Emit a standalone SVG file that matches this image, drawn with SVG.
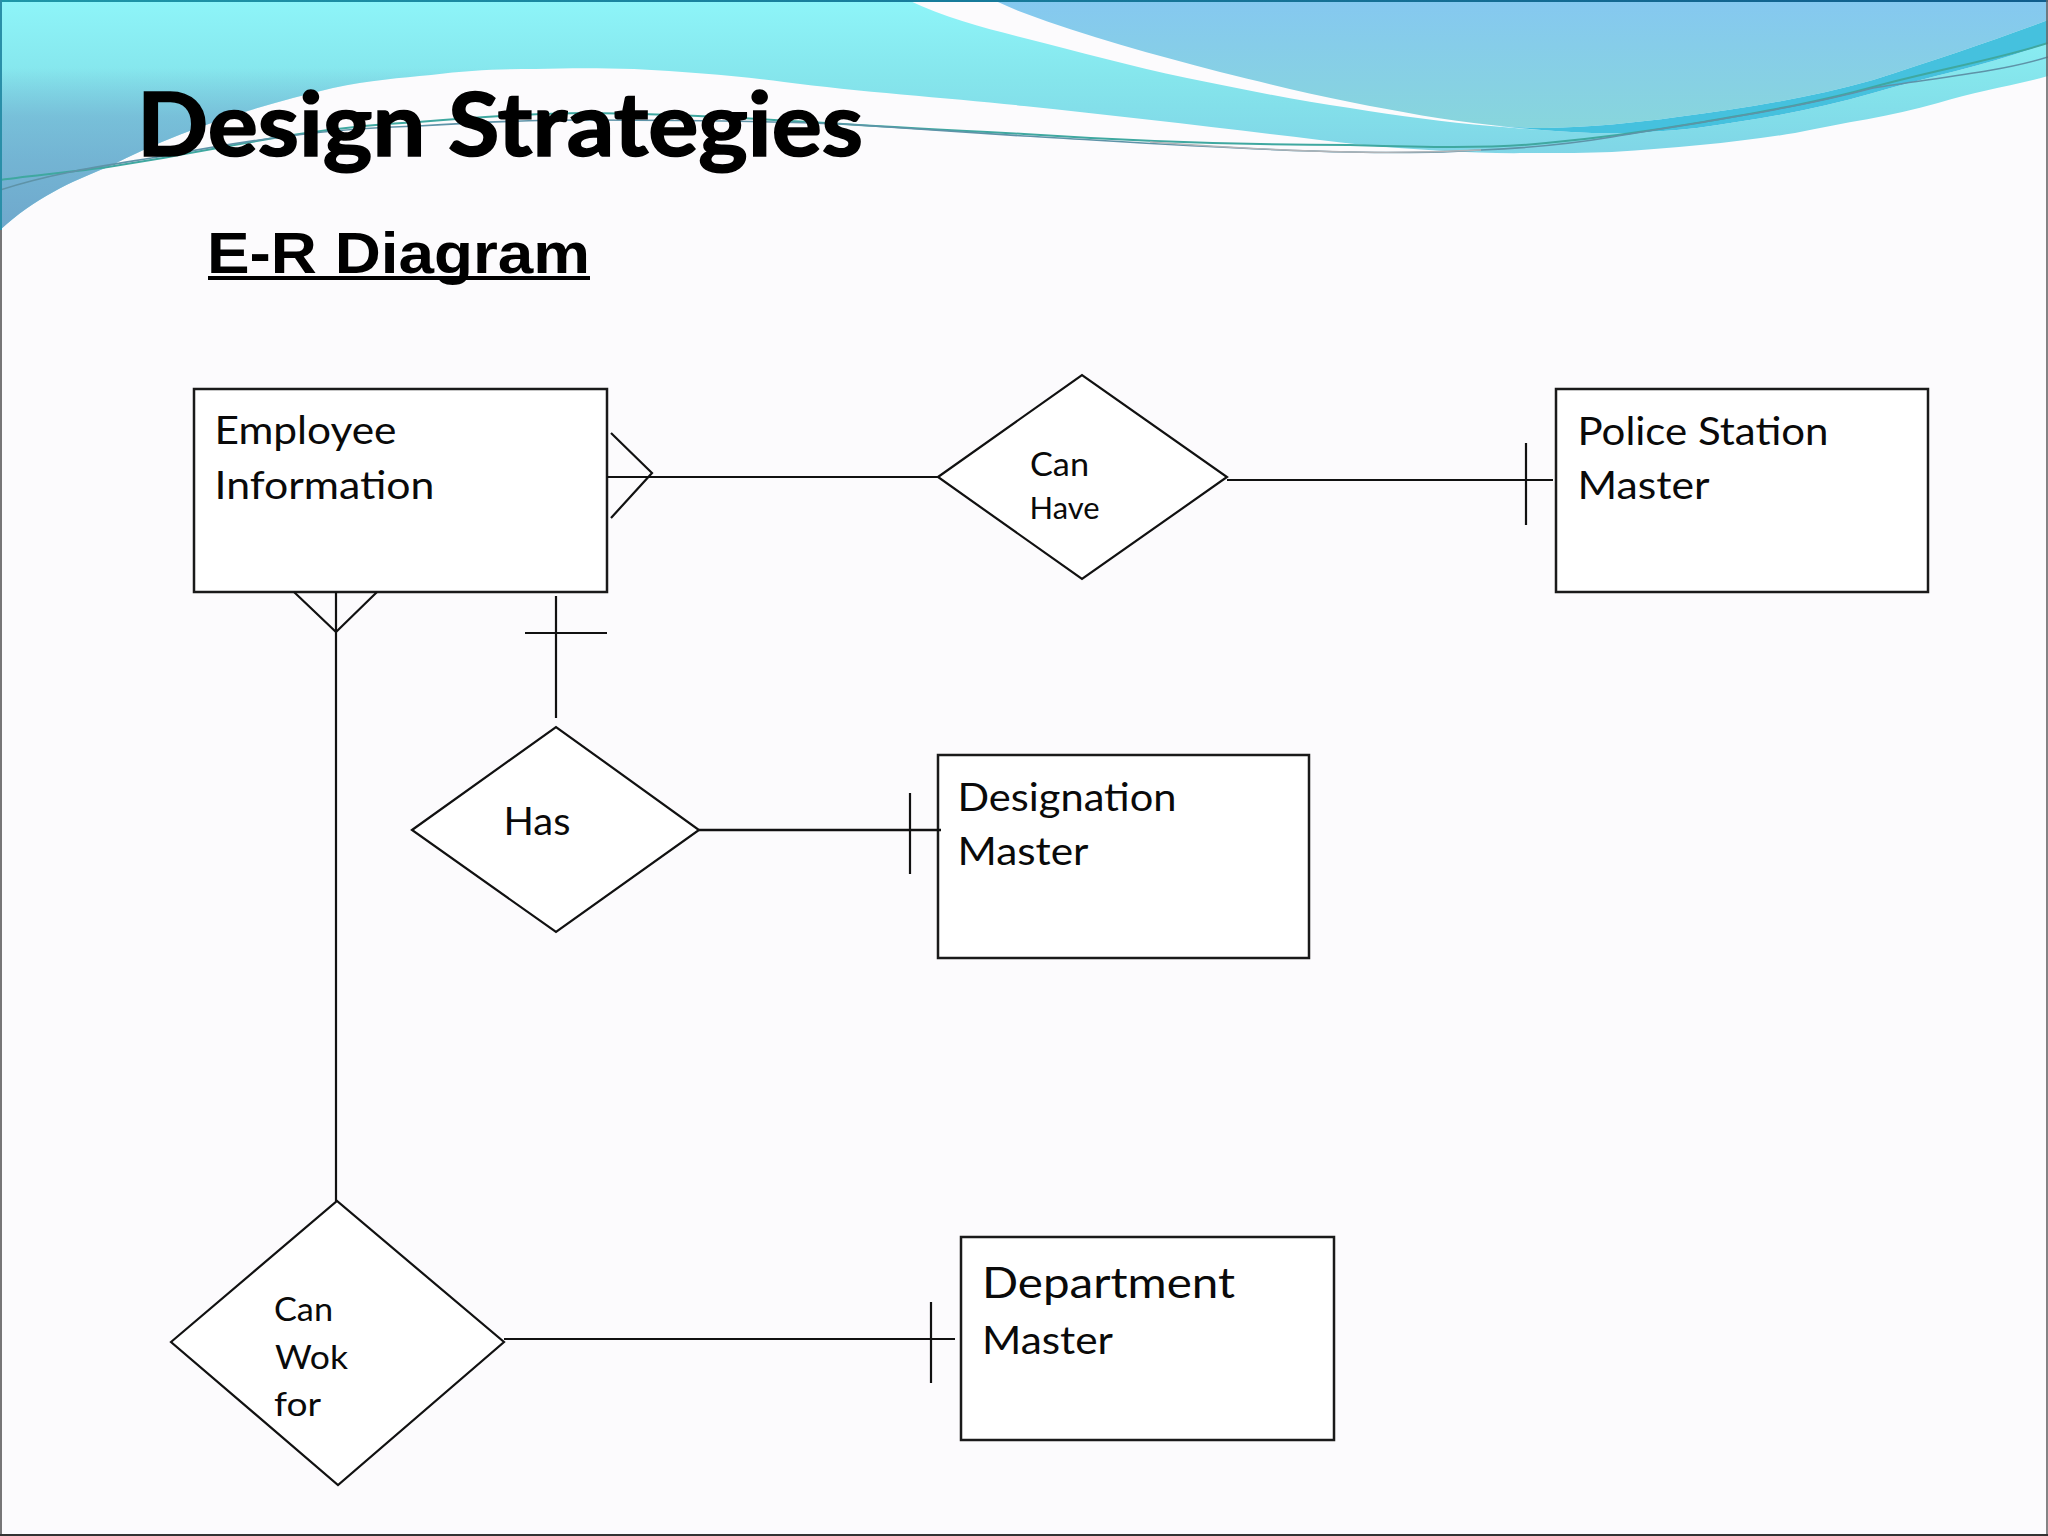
<svg xmlns="http://www.w3.org/2000/svg" width="2048" height="1536" viewBox="0 0 2048 1536">
<style>
.box{fill:#fff;stroke:#1a1a1a;stroke-width:2.5}
.dia{fill:#fff;stroke:#111;stroke-width:2.2;stroke-linejoin:miter}
.lbl{font-family:"Lato","Open Sans",sans-serif;fill:#0a0a0a}
.c{fill:none;stroke:#111;stroke-width:2.2}
</style>
<defs>
<linearGradient id="band" gradientUnits="userSpaceOnUse" x1="0" y1="0" x2="0" y2="160">
<stop offset="0" stop-color="#8EF5F9"/><stop offset="0.5" stop-color="#85E5EC"/><stop offset="1" stop-color="#7FD4E6"/>
</linearGradient>
<linearGradient id="corner" gradientUnits="userSpaceOnUse" x1="0" y1="68" x2="0" y2="230">
<stop offset="0" stop-color="#6FA8CC" stop-opacity="0"/><stop offset="0.3" stop-color="#6FA8CC" stop-opacity="0.55"/><stop offset="1" stop-color="#6FA8CC" stop-opacity="1"/>
</linearGradient>
<linearGradient id="sky" gradientUnits="userSpaceOnUse" x1="0" y1="0" x2="0" y2="130">
<stop offset="0" stop-color="#85C8F0"/><stop offset="1" stop-color="#88D6DC"/>
</linearGradient>
<linearGradient id="frame" gradientUnits="userSpaceOnUse" x1="0" y1="0" x2="2048" y2="0">
<stop offset="0" stop-color="#1E97A8"/><stop offset="1" stop-color="#0F5C8C"/>
</linearGradient>
</defs>
<rect width="2048" height="1536" fill="#FCFBFD"/>
<path fill="url(#sky)" d="M993 0H2048V20C1995 40 1935 60 1873 80C1810 98 1745 108 1677 117C1635 123 1590 127 1546 128C1530 128 1510 127 1491 125C1445 120 1400 112 1350 102C1305 93 1265 83 1220 72C1155 55 1085 36 1024 13C1013 9 1003 4 993 0Z"/>
<path fill="url(#band)" d="M0 0H908C945 18 985 28 1024 38C1080 52 1130 66 1187 78C1240 89 1295 100 1350 108C1400 116 1445 122 1491 126C1525 129 1560 132 1592 133C1625 134 1660 132 1697 128C1755 120 1815 110 1873 93C1935 75 1990 65 2048 43V76C2012 86 1975 91 1938 103C1890 117 1845 122 1795 133C1740 142 1680 148 1612 152C1590 153 1560 153 1530 153C1480 154 1420 150 1364 145C1260 133 1140 118 1024 106C950 98 860 92 784 82C740 76 690 72 634 69C600 68 570 68 535 69C500 69 470 70 431 75C400 78 370 80 333 88C260 105 180 130 108 167C70 182 35 198 0 230Z"/>
<path fill="url(#corner)" d="M0 60H520V70C500 69 470 70 431 75C400 78 370 80 333 88C260 105 180 130 108 167C70 182 35 198 0 230Z"/>
<path fill="#45C1DE" d="M1491 125C1510 127 1530 128 1546 128C1590 127 1635 123 1677 117C1745 108 1810 98 1873 80C1935 60 1995 40 2048 20V43C1990 65 1935 75 1873 93C1815 110 1755 120 1697 128C1660 132 1625 134 1592 133C1560 132 1525 129 1491 125Z"/>
<path fill="none" stroke="#3FA8A0" stroke-width="2" d="M0 180C36 175 72 172 108 167C127 164 145 161 163 158C250 142 330 126 418 122C480 117 535 113 588 113C680 114 760 119 843 124C905 128 965 131 1024 134C1130 141 1240 145 1350 145C1420 147 1490 149 1546 143C1600 138 1650 131 1697 123C1760 112 1815 103 1873 87C1935 70 1995 60 2048 43"/>
<path fill="none" stroke="#5E93A8" stroke-width="1.6" d="M0 190C55 172 110 165 163 156C250 140 330 128 418 126C480 122 535 120 588 120C680 120 760 121 843 124C905 128 965 132 1024 136C1130 142 1240 150 1350 152C1400 153 1440 153 1481 150C1530 148 1570 144 1612 137C1700 122 1790 110 1873 88C1935 78 2000 72 2048 57"/>
<path fill="none" stroke="#B0B4B8" stroke-width="1.4" d="M1150 142C1220 147 1300 151 1350 152C1400 153 1440 152 1481 150"/>

<g id="title">
<text x="137" y="156" font-family="Lato,'Open Sans',sans-serif" font-weight="700" font-size="88" fill="#000" stroke="#000" stroke-width="1.6" textLength="726" lengthAdjust="spacingAndGlyphs">Design Strategies</text>
<text x="207" y="273" font-family="'Liberation Sans',Arial,sans-serif" font-weight="700" font-size="58" fill="#000" textLength="383" lengthAdjust="spacingAndGlyphs">E-R Diagram</text>
<line x1="208" y1="278" x2="590" y2="278" stroke="#000" stroke-width="4"/>
</g>

<g id="employee-information">
<rect class="box" x="194" y="389" width="413" height="203"/>
<text class="lbl" x="214.500" y="444" font-size="38" textLength="182" lengthAdjust="spacingAndGlyphs">Employee</text>
<text class="lbl" x="214.500" y="499" font-size="38" textLength="220" lengthAdjust="spacingAndGlyphs">Information</text>
</g>
<g id="police-station-master">
<rect class="box" x="1556" y="389" width="372" height="203"/>
<text class="lbl" x="1577.500" y="445" font-size="38" textLength="251" lengthAdjust="spacingAndGlyphs">Police Station</text>
<text class="lbl" x="1577.500" y="499" font-size="38" textLength="132" lengthAdjust="spacingAndGlyphs">Master</text>
</g>
<g id="designation-master">
<rect class="box" x="938" y="755" width="371" height="203"/>
<text class="lbl" x="957.500" y="811" font-size="38" textLength="219" lengthAdjust="spacingAndGlyphs">Designation</text>
<text class="lbl" x="957.500" y="865" font-size="38" textLength="131" lengthAdjust="spacingAndGlyphs">Master</text>
</g>
<g id="department-master">
<rect class="box" x="961" y="1237" width="373" height="203"/>
<text class="lbl" x="982" y="1298" font-size="43" textLength="253" lengthAdjust="spacingAndGlyphs">Department</text>
<text class="lbl" x="982" y="1354" font-size="38" textLength="131" lengthAdjust="spacingAndGlyphs">Master</text>
</g>
<g id="can-have">
<polygon class="dia" points="938,477 1082,375 1227,477 1082,579"/>
<text class="lbl" x="1030" y="476" font-size="33" textLength="59" lengthAdjust="spacingAndGlyphs">Can</text>
<text class="lbl" x="1029.500" y="519" font-size="30" textLength="70" lengthAdjust="spacingAndGlyphs">Have</text>
</g>
<g id="has">
<polygon class="dia" points="412,830 556,727 699,830 556,932"/>
<text class="lbl" x="503.500" y="835" font-size="38" textLength="67" lengthAdjust="spacingAndGlyphs">Has</text>
</g>
<g id="can-wok-for">
<polygon class="dia" points="171,1342 337,1201 504,1342 338,1485"/>
<text class="lbl" x="274" y="1321" font-size="33" textLength="59" lengthAdjust="spacingAndGlyphs">Can</text>
<text class="lbl" x="275" y="1369" font-size="33" textLength="73" lengthAdjust="spacingAndGlyphs">Wok</text>
<text class="lbl" x="274" y="1416" font-size="33" textLength="47" lengthAdjust="spacingAndGlyphs">for</text>
</g>

<g id="connectors">
<line class="c" x1="607" y1="477" x2="938" y2="477"/>
<polyline class="c" points="611,433 652,473 611,518"/>
<line class="c" x1="1227" y1="480" x2="1553" y2="480"/>
<line class="c" x1="1526" y1="443" x2="1526" y2="525"/>
<line class="c" x1="336" y1="592" x2="336" y2="1201"/>
<polyline class="c" points="294,592 336,632 377,592"/>
<line class="c" x1="556" y1="596" x2="556" y2="718"/>
<line class="c" x1="525" y1="633" x2="607" y2="633"/>
<line class="c" x1="699" y1="830" x2="941" y2="830" style="stroke-width:2.6"/>
<line class="c" x1="910" y1="793" x2="910" y2="874"/>
<line class="c" x1="504" y1="1339" x2="955" y2="1339"/>
<line class="c" x1="931" y1="1302" x2="931" y2="1383"/>
</g>

<g id="frame" fill="none">
<line x1="0" y1="1" x2="2048" y2="1" stroke="url(#frame)" stroke-width="2"/>
<line x1="1" y1="0" x2="1" y2="230" stroke="#2A8FA8" stroke-width="2"/>
<line x1="1" y1="230" x2="1" y2="1536" stroke="#555" stroke-width="1.6"/>
<line x1="2047" y1="0" x2="2047" y2="1536" stroke="#666" stroke-width="1.6"/>
<line x1="0" y1="1535" x2="2048" y2="1535" stroke="#333" stroke-width="2"/>
</g>
</svg>
